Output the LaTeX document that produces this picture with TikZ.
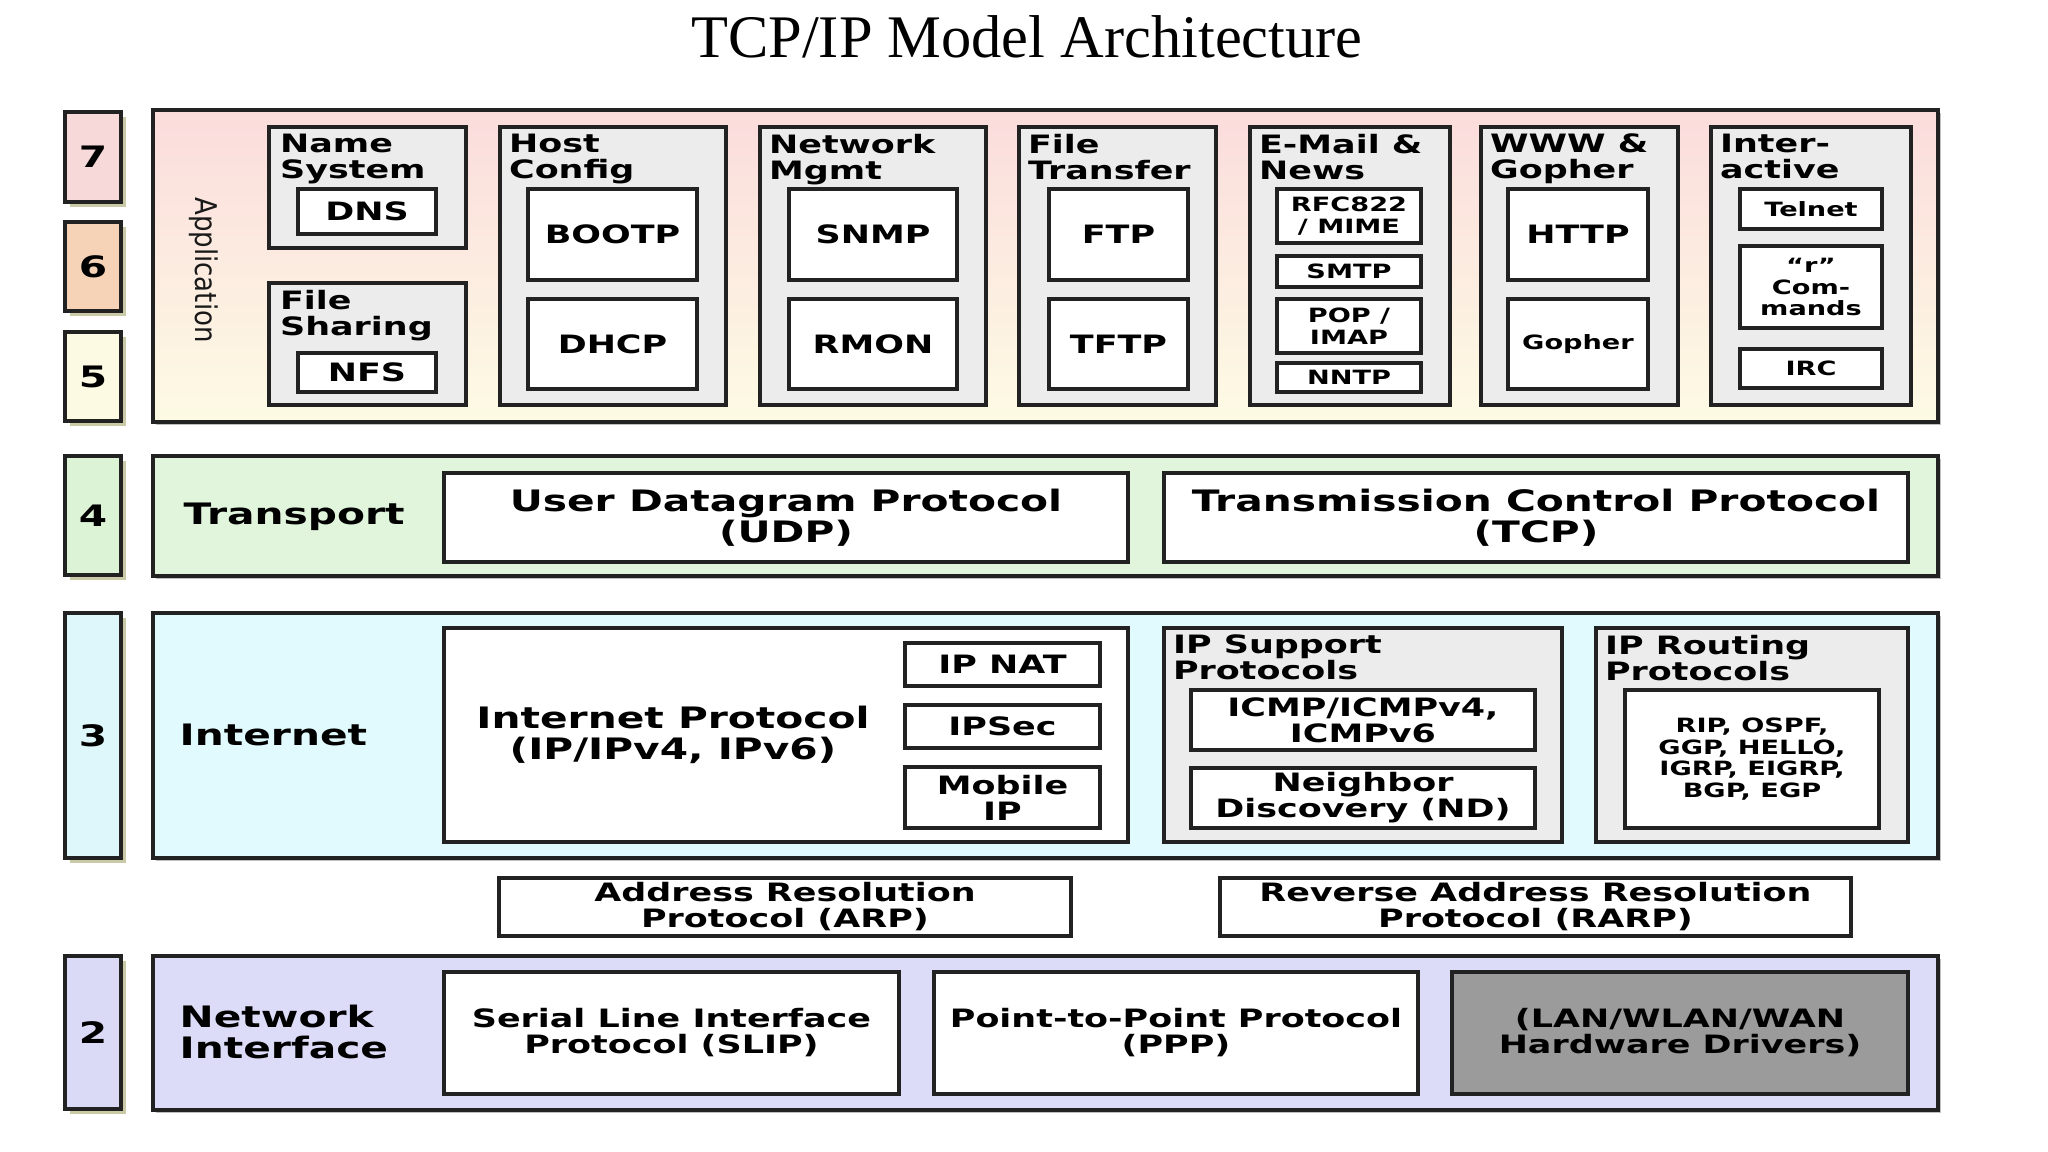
\documentclass[tikz,border=0pt]{standalone}
\usepackage{fontspec}
\setmainfont{Liberation Serif}
\newfontfamily\boxfont[FakeStretch=1.38]{DejaVu Sans}
\newfontfamily\plainfont{DejaVu Sans}
\usetikzlibrary{shadows}

\newcommand*{\bigsz}{\fontsize{8.4}{8.7}\selectfont}
\newcommand*{\midsz}{\fontsize{7.2}{7.4}\selectfont}
\newcommand*{\smlsz}{\fontsize{5.6}{6.2}\selectfont}

\definecolor{sevencol}{HTML}{F8D9D9}
\definecolor{sixcol}{HTML}{F6D3B6}
\definecolor{fivecol}{HTML}{FCFAE2}
\definecolor{fourcol}{HTML}{DDF3D5}
\definecolor{threecol}{HTML}{DDF7FA}
\definecolor{twocol}{HTML}{DADAF6}
\definecolor{apptop}{HTML}{FBDCDC}
\definecolor{appbot}{HTML}{FDFBE4}
\definecolor{transcol}{HTML}{E0F5DC}
\definecolor{inetcol}{HTML}{E1FAFD}
\definecolor{netcol}{HTML}{DCDCF8}
\definecolor{grpcol}{HTML}{ECECEC}
\definecolor{hwcol}{HTML}{9B9B9B}
\definecolor{shadowcol}{HTML}{CACBA6}
\definecolor{edgecol}{HTML}{222222}

\begin{document}
\begin{tikzpicture}
[
	sz/.style 2 args={minimum width=#1cm, minimum height=#2cm},
	numbox/.style={draw=edgecol, line width=1pt, inner sep=0pt, minimum width=0.56cm,
		font=\boxfont\bfseries\bigsz,
		drop shadow={shadow xshift=0.05cm, shadow yshift=-0.05cm, fill=shadowcol, opacity=1}},
	layer/.style={draw=edgecol, line width=1.1pt, minimum width=17.85cm,
		drop shadow={shadow xshift=0.03cm, shadow yshift=-0.03cm, fill=black!25, opacity=1}},
	grp/.style={draw=edgecol, line width=0.9pt, fill=grpcol},
	inbox/.style={draw=edgecol, line width=0.9pt, fill=white, align=center, inner sep=1pt,
		font=\boxfont\bfseries\midsz},
	smallbox/.style={inbox, font=\boxfont\bfseries\smlsz},
	bigbox/.style={inbox, font=\boxfont\bfseries\bigsz},
	hdr/.style={anchor=north west, align=left, inner sep=0pt, font=\boxfont\bfseries\midsz},
	lbl/.style={anchor=west, align=left, inner sep=0pt, font=\boxfont\bfseries\bigsz}
]

	\useasboundingbox[fill=white] (0,0) rectangle (20.48,-11.52);

	% title
	\node (title) at (10.27,-0.37) {\fontsize{17.2}{20}\selectfont TCP/IP Model Architecture};

	% layer numbers
	\foreach \n/\y/\h/\c in {7/1.57/0.90/sevencol, 6/2.665/0.89/sixcol, 5/3.765/0.89/fivecol,
		4/5.155/1.19/fourcol, 3/7.355/2.45/threecol, 2/10.325/1.53/twocol}
		\node[numbox, fill=\c, minimum height=\h cm] (n\n) at (0.93,-\y) {\n};

	% application
	\node[layer, sz={17.85}{3.12}, top color=apptop, bottom color=appbot] (app) at (10.455,-2.66) {};
	\node[rotate=-90, yscale=1.15, inner sep=0pt, text=black!90,
		font=\plainfont\fontsize{7.4}{8}\selectfont] (applbl) at (2.04,-2.70) {Application};

	\node[grp, sz={1.97}{1.21}] (ns) at (3.675,-1.875) {};
	\node[hdr] (nshdr) at ([xshift=0.12cm,yshift=-0.08cm]ns.north west) {Name\\System};
	\node[inbox, sz={1.38}{0.45}] (dns) at (3.67,-2.115) {DNS};

	\node[grp, sz={1.97}{1.22}] (fs) at (3.675,-3.44) {};
	\node[hdr] (fshdr) at ([xshift=0.12cm,yshift=-0.08cm]fs.north west) {File\\Sharing};
	\node[inbox, sz={1.38}{0.39}] (nfs) at (3.67,-3.725) {NFS};

	\node[grp, sz={2.26}{2.78}] (hc) at (6.13,-2.66) {};
	\node[hdr] (hchdr) at ([xshift=0.10cm,yshift=-0.08cm]hc.north west) {Host\\Config};
	\node[inbox, sz={1.69}{0.91}] (bootp) at (6.125,-2.345) {BOOTP};
	\node[inbox, sz={1.69}{0.90}] (dhcp) at (6.125,-3.44) {DHCP};

	\node[grp, sz={2.26}{2.78}] (nm) at (8.73,-2.66) {};
	\node[hdr] (nmhdr) at ([xshift=0.10cm,yshift=-0.08cm]nm.north west) {Network\\Mgmt};
	\node[inbox, sz={1.68}{0.91}] (snmp) at (8.73,-2.345) {SNMP};
	\node[inbox, sz={1.68}{0.90}] (rmon) at (8.73,-3.44) {RMON};

	\node[grp, sz={1.97}{2.78}] (ft) at (11.175,-2.66) {};
	\node[hdr] (fthdr) at ([xshift=0.10cm,yshift=-0.08cm]ft.north west) {File\\Transfer};
	\node[inbox, sz={1.39}{0.91}] (ftp) at (11.185,-2.345) {FTP};
	\node[inbox, sz={1.39}{0.90}] (tftp) at (11.185,-3.44) {TFTP};

	\node[grp, sz={2.00}{2.78}] (em) at (13.50,-2.66) {};
	\node[hdr] (emhdr) at ([xshift=0.10cm,yshift=-0.08cm]em.north west) {E-Mail \&\\News};
	\node[smallbox, sz={1.44}{0.54}] (rfc) at (13.49,-2.16) {RFC822\\/ MIME};
	\node[smallbox, sz={1.44}{0.31}] (smtp) at (13.49,-2.715) {SMTP};
	\node[smallbox, sz={1.44}{0.54}] (pop) at (13.49,-3.26) {POP /\\IMAP};
	\node[smallbox, sz={1.44}{0.29}] (nntp) at (13.49,-3.775) {NNTP};

	\node[grp, sz={1.97}{2.78}] (ww) at (15.795,-2.66) {};
	\node[hdr] (wwhdr) at ([xshift=0.10cm,yshift=-0.08cm]ww.north west) {WWW \&\\Gopher};
	\node[inbox, sz={1.40}{0.91}] (http) at (15.78,-2.345) {HTTP};
	\node[smallbox, sz={1.40}{0.90}] (gopher) at (15.78,-3.44) {Gopher};

	\node[grp, sz={2.00}{2.78}] (ia) at (18.11,-2.66) {};
	\node[hdr] (iahdr) at ([xshift=0.10cm,yshift=-0.08cm]ia.north west) {Inter-\\active};
	\node[smallbox, sz={1.42}{0.40}] (telnet) at (18.11,-2.09) {Telnet};
	\node[smallbox, sz={1.42}{0.82}] (rcmd) at (18.11,-2.87) {“r”\\Com-\\mands};
	\node[smallbox, sz={1.42}{0.39}] (irc) at (18.11,-3.685) {IRC};

	% transport
	\node[layer, sz={17.85}{1.20}, fill=transcol] (trans) at (10.455,-5.16) {};
	\node[lbl] (translbl) at (1.83,-5.17) {Transport};
	\node[bigbox, sz={6.84}{0.89}] (udp) at (7.86,-5.175) {User Datagram Protocol\\(UDP)};
	\node[bigbox, sz={7.44}{0.89}] (tcp) at (15.36,-5.175) {Transmission Control Protocol\\(TCP)};

	% internet
	\node[layer, sz={17.85}{2.45}, fill=inetcol] (inet) at (10.455,-7.355) {};
	\node[lbl] (inetlbl) at (1.79,-7.35) {Internet};

	\node[inbox, sz={6.84}{2.14}] (ip) at (7.86,-7.35) {};
	\node[align=center, inner sep=0pt, font=\boxfont\bfseries\bigsz] (iptxt) at (6.73,-7.35)
		{Internet Protocol\\(IP/IPv4, IPv6)};
	\node[inbox, sz={1.95}{0.43}] (ipnat) at (10.025,-6.645) {IP NAT};
	\node[inbox, sz={1.95}{0.43}] (ipsec) at (10.025,-7.265) {IPSec};
	\node[inbox, sz={1.95}{0.61}] (mobip) at (10.025,-7.975) {Mobile\\IP};

	\node[grp, sz={3.98}{2.14}] (ipsup) at (13.63,-7.35) {};
	\node[hdr] (ipsuphdr) at ([xshift=0.10cm,yshift=-0.08cm]ipsup.north west) {IP Support\\Protocols};
	\node[inbox, sz={3.44}{0.60}] (icmp) at (13.63,-7.20) {ICMP/ICMPv4,\\ICMPv6};
	\node[inbox, sz={3.44}{0.60}] (nd) at (13.63,-7.98) {Neighbor\\Discovery (ND)};

	\node[grp, sz={3.12}{2.14}] (iprout) at (17.52,-7.35) {};
	\node[hdr] (iprouthdr) at ([xshift=0.10cm,yshift=-0.08cm]iprout.north west) {IP Routing\\Protocols};
	\node[smallbox, sz={2.54}{1.38}] (routing) at (17.52,-7.59) {RIP, OSPF,\\GGP, HELLO,\\IGRP, EIGRP,\\BGP, EGP};

	% address resolution
	\node[inbox, sz={5.72}{0.58}] (arp) at (7.85,-9.07) {Address Resolution\\Protocol (ARP)};
	\node[inbox, sz={6.31}{0.58}] (rarp) at (15.355,-9.07) {Reverse Address Resolution\\Protocol (RARP)};

	% network interface
	\node[layer, sz={17.85}{1.54}, fill=netcol] (netif) at (10.455,-10.33) {};
	\node[lbl] (netiflbl) at (1.79,-10.32) {Network\\Interface};
	\node[inbox, sz={4.55}{1.22}] (slip) at (6.715,-10.33) {Serial Line Interface\\Protocol (SLIP)};
	\node[inbox, sz={4.84}{1.22}] (ppp) at (11.76,-10.33) {Point-to-Point Protocol\\(PPP)};
	\node[inbox, sz={4.56}{1.22}, fill=hwcol] (hw) at (16.80,-10.33) {(LAN/WLAN/WAN\\Hardware Drivers)};

\end{tikzpicture}
\end{document}
